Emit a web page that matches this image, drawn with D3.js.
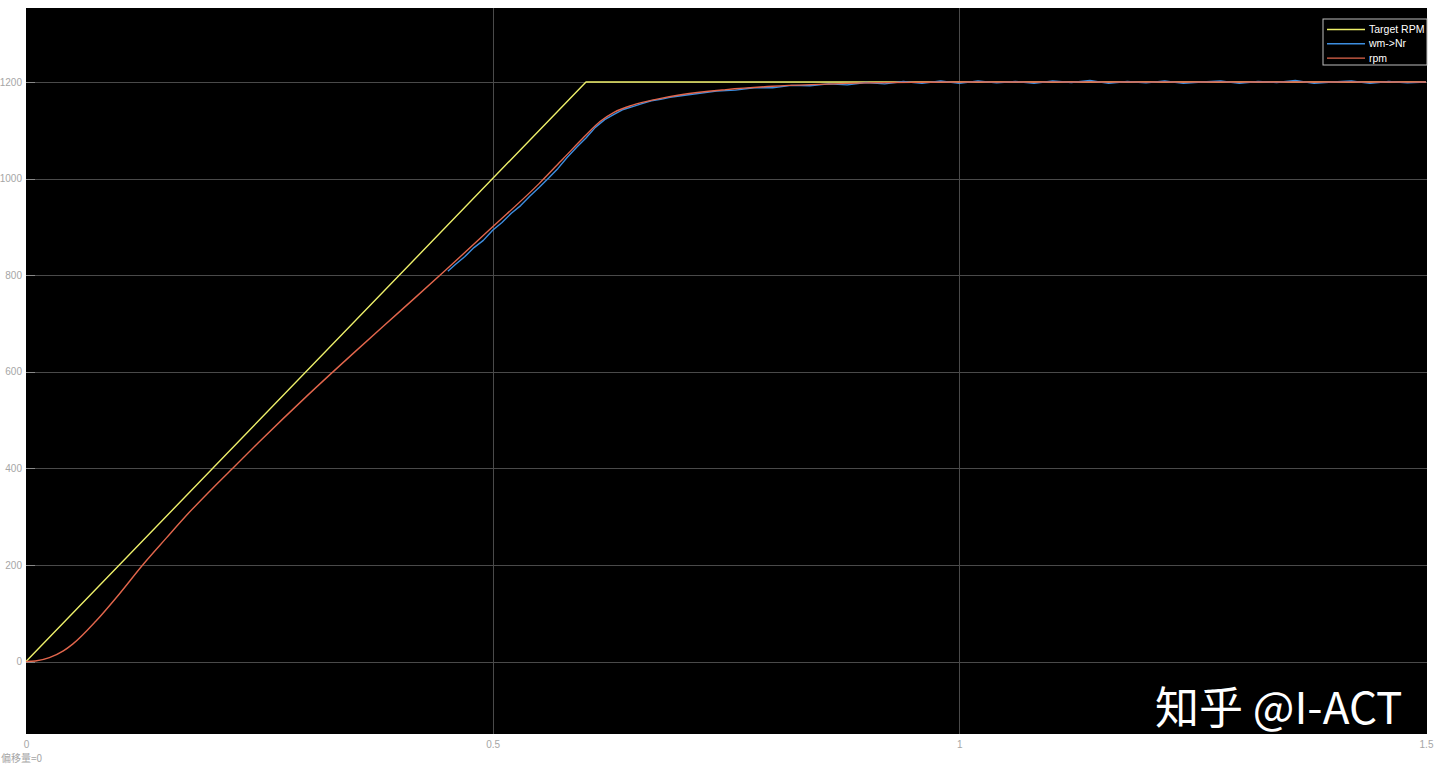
<!DOCTYPE html>
<html>
<head>
<meta charset="utf-8">
<script src="https://cdn.jsdelivr.net/npm/d3@7"></script>
<style>
  body { margin: 0; background: #fff; }
  svg { display: block; }
</style>
</head>
<body>
<div id="scope"></div>
<script>
  // target speed (ramp then hold)
  var targetT = [0, 0.6, 1.5]
  var targetV = [0, 1200, 1200]

  // measured rpm
  var rpmT = [0, 0.01, 0.025, 0.04, 0.05, 0.075, 0.1, 0.125, 0.15, 0.175, 0.2, 0.225, 0.25, 0.3, 0.35, 0.4, 0.45,
              0.5, 0.55, 0.575, 0.6, 0.615, 0.63, 0.65, 0.675, 0.7, 0.75, 0.8, 0.85, 0.9, 1.0, 1.2, 1.5]
  var rpmV = [0, 1, 8, 22, 36, 84, 140, 200, 255, 309, 359, 407, 455, 548, 637, 724, 811,
              900, 990, 1040, 1090, 1118, 1137, 1152, 1164, 1173, 1184, 1191, 1195, 1198, 1200, 1200, 1200]

  // wm->Nr (starts once the observer kicks in)
  var nrT = [0.452, 0.46, 0.47, 0.48, 0.49, 0.50, 0.51, 0.52, 0.53, 0.54, 0.55, 0.56, 0.57, 0.58, 0.59,
             0.60, 0.61, 0.62, 0.63, 0.64, 0.65, 0.66, 0.67, 0.68, 0.69, 0.70,
             0.72, 0.74, 0.76, 0.78, 0.80, 0.82, 0.84, 0.86, 0.88, 0.90, 0.92, 0.94, 0.96, 0.98,
             1.00, 1.02, 1.04, 1.06, 1.08, 1.10, 1.12, 1.14, 1.16, 1.18, 1.20, 1.22, 1.24, 1.26, 1.28,
             1.30, 1.32, 1.34, 1.36, 1.38, 1.40, 1.42, 1.44, 1.46, 1.48, 1.50]
  var nrV = [808, 822, 838, 857, 872, 893, 909, 928, 944, 964, 982, 1001, 1021, 1044, 1065,
             1084, 1106, 1122, 1133, 1143, 1149, 1155, 1161, 1164, 1168, 1171,
             1176, 1181, 1183, 1188, 1188, 1193, 1192, 1196, 1194, 1199, 1196, 1201, 1197, 1202,
             1197, 1202, 1198, 1201, 1197, 1202, 1199, 1203, 1197, 1201, 1198, 1202, 1197, 1200, 1202,
             1197, 1201, 1199, 1203, 1197, 1200, 1202, 1197, 1201, 1198, 1200]

  var yTicks = [0, 200, 400, 600, 800, 1000, 1200]
  var xTicks = [0, 0.5, 1, 1.5]
  var legendNames = ["Target RPM", "wm->Nr", "rpm"]
  var colors = ["#eef06a", "#3d8ee0", "#e2664c"]

  var W = 1440, H = 769
  var box = {left: 26, top: 9.5, right: 1427, bottom: 734}

  var svg = d3.select("#scope").append("svg")
      .attr("width", W)
      .attr("height", H)

  var xScale = d3.scaleLinear().domain([0, 1.5]).range([box.left, box.right - 1])
  var yScale = d3.scaleLinear().domain([-150, 1350]).range([box.bottom, box.top])

  // black plotting area
  svg.append("rect")
      .attr("x", box.left)
      .attr("y", box.top - 1.5)
      .attr("width", box.right - box.left)
      .attr("height", box.bottom - box.top + 1.5)
      .attr("fill", "#000")

  // grid
  svg.append("g").selectAll("line")
      .data(yTicks)
    .enter().append("line")
      .attr("x1", box.left).attr("x2", box.right)
      .attr("y1", function(d) { return Math.round(yScale(d)) + 0.5 })
      .attr("y2", function(d) { return Math.round(yScale(d)) + 0.5 })
      .attr("stroke", "#4a4a4a")

  svg.append("g").selectAll("line")
      .data([0.5, 1])
    .enter().append("line")
      .attr("y1", box.top - 1.5).attr("y2", box.bottom)
      .attr("x1", function(d) { return Math.round(xScale(d)) + 0.5 })
      .attr("x2", function(d) { return Math.round(xScale(d)) + 0.5 })
      .attr("stroke", "#4a4a4a")

  // axes (labels only, MATLAB scope style)
  var yAxis = d3.axisLeft(yScale).tickValues(yTicks).tickSize(0).tickPadding(4)
      .tickFormat(d3.format("d"))
  var xAxis = d3.axisBottom(xScale).tickValues(xTicks).tickSize(0).tickPadding(7)
      .tickFormat(function(d) { return String(d) })

  var gy = svg.append("g")
      .attr("transform", "translate(" + box.left + ",0)")
      .call(yAxis)
  var gx = svg.append("g")
      .attr("transform", "translate(0," + box.bottom + ")")
      .call(xAxis)

  ;[gx, gy].forEach(function(g) {
    g.select(".domain").remove()
    g.selectAll("text")
        .attr("fill", "#a6a6a6")
        .attr("font-family", "Liberation Sans, Arial, sans-serif")
        .attr("font-size", "10px")
  })

  // small inner tick marks
  svg.append("g").selectAll("line")
      .data(yTicks)
    .enter().append("line")
      .attr("x1", box.left).attr("x2", box.left + 9)
      .attr("y1", function(d) { return Math.round(yScale(d)) + 0.5 })
      .attr("y2", function(d) { return Math.round(yScale(d)) + 0.5 })
      .attr("stroke", "#8a8a8a")

  // traces
  var smooth = d3.line()
      .x(function(d) { return xScale(d[0]) })
      .y(function(d) { return yScale(d[1]) })
      .curve(d3.curveMonotoneX)
  var straight = d3.line()
      .x(function(d) { return xScale(d[0]) })
      .y(function(d) { return yScale(d[1]) })

  var series = [
    {data: d3.zip(targetT, targetV), gen: straight},
    {data: d3.zip(nrT, nrV), gen: straight},
    {data: d3.zip(rpmT, rpmV), gen: smooth}
  ]

  var plot = svg.append("g")
  series.forEach(function(s, i) {
    plot.append("path")
        .datum(s.data)
        .attr("d", s.gen)
        .attr("fill", "none")
        .attr("stroke", colors[i])
        .attr("stroke-width", 1.4)
        .attr("stroke-linejoin", "round")
  })

  // legend
  var legend = svg.append("g").attr("transform", "translate(1323,19)")
  legend.append("rect")
      .attr("width", 104).attr("height", 46)
      .attr("fill", "#000")
      .attr("stroke", "#bdbdbd")
      .attr("stroke-width", 1)

  legendNames.forEach(function(name, i) {
    var yy = 10.5 + i * 14.3
    legend.append("line")
        .attr("x1", 4).attr("x2", 42)
        .attr("y1", yy).attr("y2", yy)
        .attr("stroke", colors[i])
        .attr("stroke-width", 1.4)
    legend.append("text")
        .attr("x", 46)
        .attr("y", yy + 3.6)
        .attr("fill", "#fff")
        .attr("font-family", "Liberation Sans, Arial, sans-serif")
        .attr("font-size", "10.5px")
        .text(name)
  })

  // offset note under the axes
  svg.append("text")
      .attr("x", 1)
      .attr("y", 762)
      .attr("fill", "#a6a6a6")
      .attr("font-family", "Noto Sans CJK SC, sans-serif")
      .attr("font-size", "10px")
      .text("偏移量=0")

  // watermark
  svg.append("text")
      .attr("x", 1155)
      .attr("y", 724)
      .attr("fill", "#fff")
      .attr("font-family", "Noto Sans CJK SC, sans-serif")
      .attr("font-size", "44px")
      .text("知乎 @I-ACT")
</script>
</body>
</html>
